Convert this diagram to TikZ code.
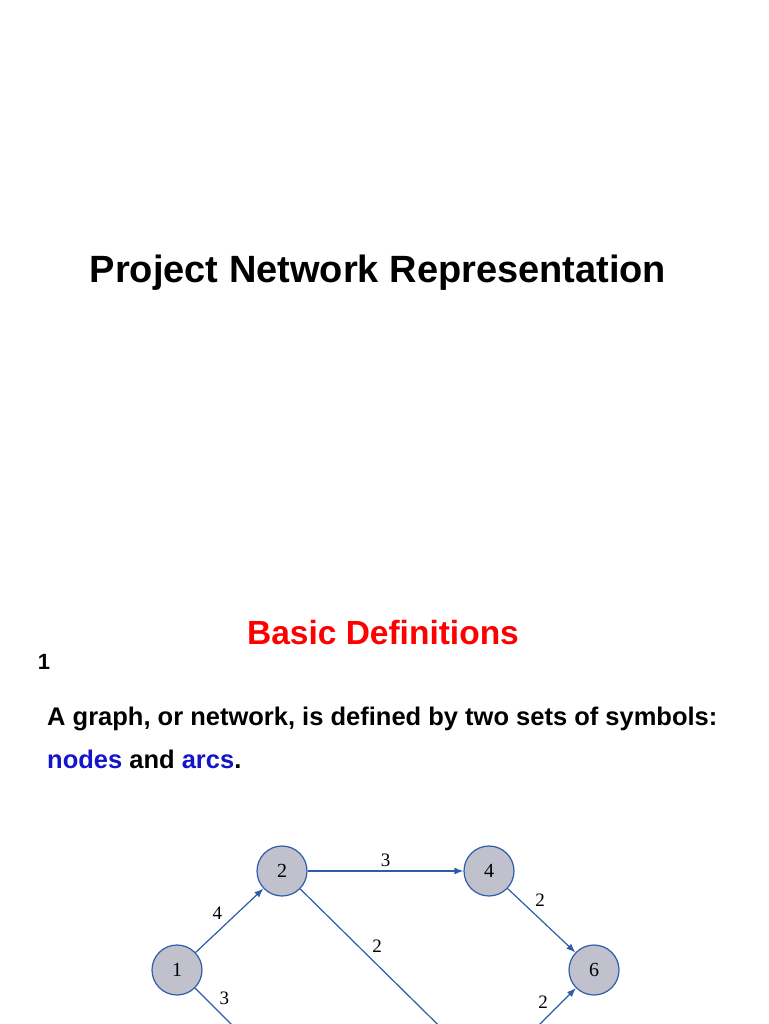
\documentclass[tikz,border=0pt]{standalone}
\usepackage{fontspec}
\setmainfont{Liberation Sans}
\newfontfamily\serifnum{Liberation Serif}
\usetikzlibrary{arrows.meta}
\definecolor{nfill}{RGB}{192,193,204}
\definecolor{nline}{RGB}{45,92,170}
\definecolor{dblue}{RGB}{20,20,200}
\tikzset{
  gnode/.style={circle,draw=nline,fill=nfill,line width=1.2pt,minimum size=50pt,inner sep=0pt,font=\serifnum\fontsize{20}{20}\selectfont},
  arc/.style={draw=nline,line width=1.2pt,-{Latex[length=9pt,width=7pt]}},
  wlab/.style={font=\serifnum\fontsize{19}{19}\selectfont}
}
\begin{document}
\begin{tikzpicture}[x=1pt,y=-1pt]
\useasboundingbox (0,0) rectangle (768,1024);
\clip (0,0) rectangle (768,1024);
\node (title) at (378,273) {\fontsize{38}{38}\selectfont\bfseries Project Network Representation};
\node[text=red] (basic) at (383,633) {\fontsize{33.5}{33.5}\selectfont\bfseries Basic Definitions};
\node (one) at (44,662) {\fontsize{22}{22}\selectfont\bfseries 1};
\node[anchor=west,inner sep=0pt] (l1) at (47,719) {\fontsize{25.5}{25.5}\selectfont\bfseries A graph, or network, is defined by two sets of symbols:};
\node[anchor=west,inner sep=0pt] (l2) at (47,759) {\fontsize{25.5}{25.5}\selectfont\bfseries \textcolor{dblue}{nodes} and \textcolor{dblue}{arcs}.};
\node[gnode] (n1) at (177,970) {1};
\node[gnode] (n2) at (282,871) {2};
\node[gnode] (n4) at (489,871) {4};
\node[gnode] (n6) at (594,970) {6};
\node[gnode] (n3) at (282,1075) {};
\node[gnode] (n5) at (489,1075) {};
\draw[arc] (n1) -- node[wlab,above left,pos=0.45] {4} (n2);
\draw[arc] (n2) -- node[wlab,above] {3} (n4);
\draw[arc] (n4) -- node[wlab,above right,pos=0.35] {2} (n6);
\draw[arc] (n1) -- node[wlab,above right,pos=0.3] {3} (n3);
\draw[arc] (n2) -- node[wlab,above right,pos=0.4] {2} (n5);
\draw[arc] (n5) -- node[wlab,above left,pos=0.65] {2} (n6);
\end{tikzpicture}
\end{document}
